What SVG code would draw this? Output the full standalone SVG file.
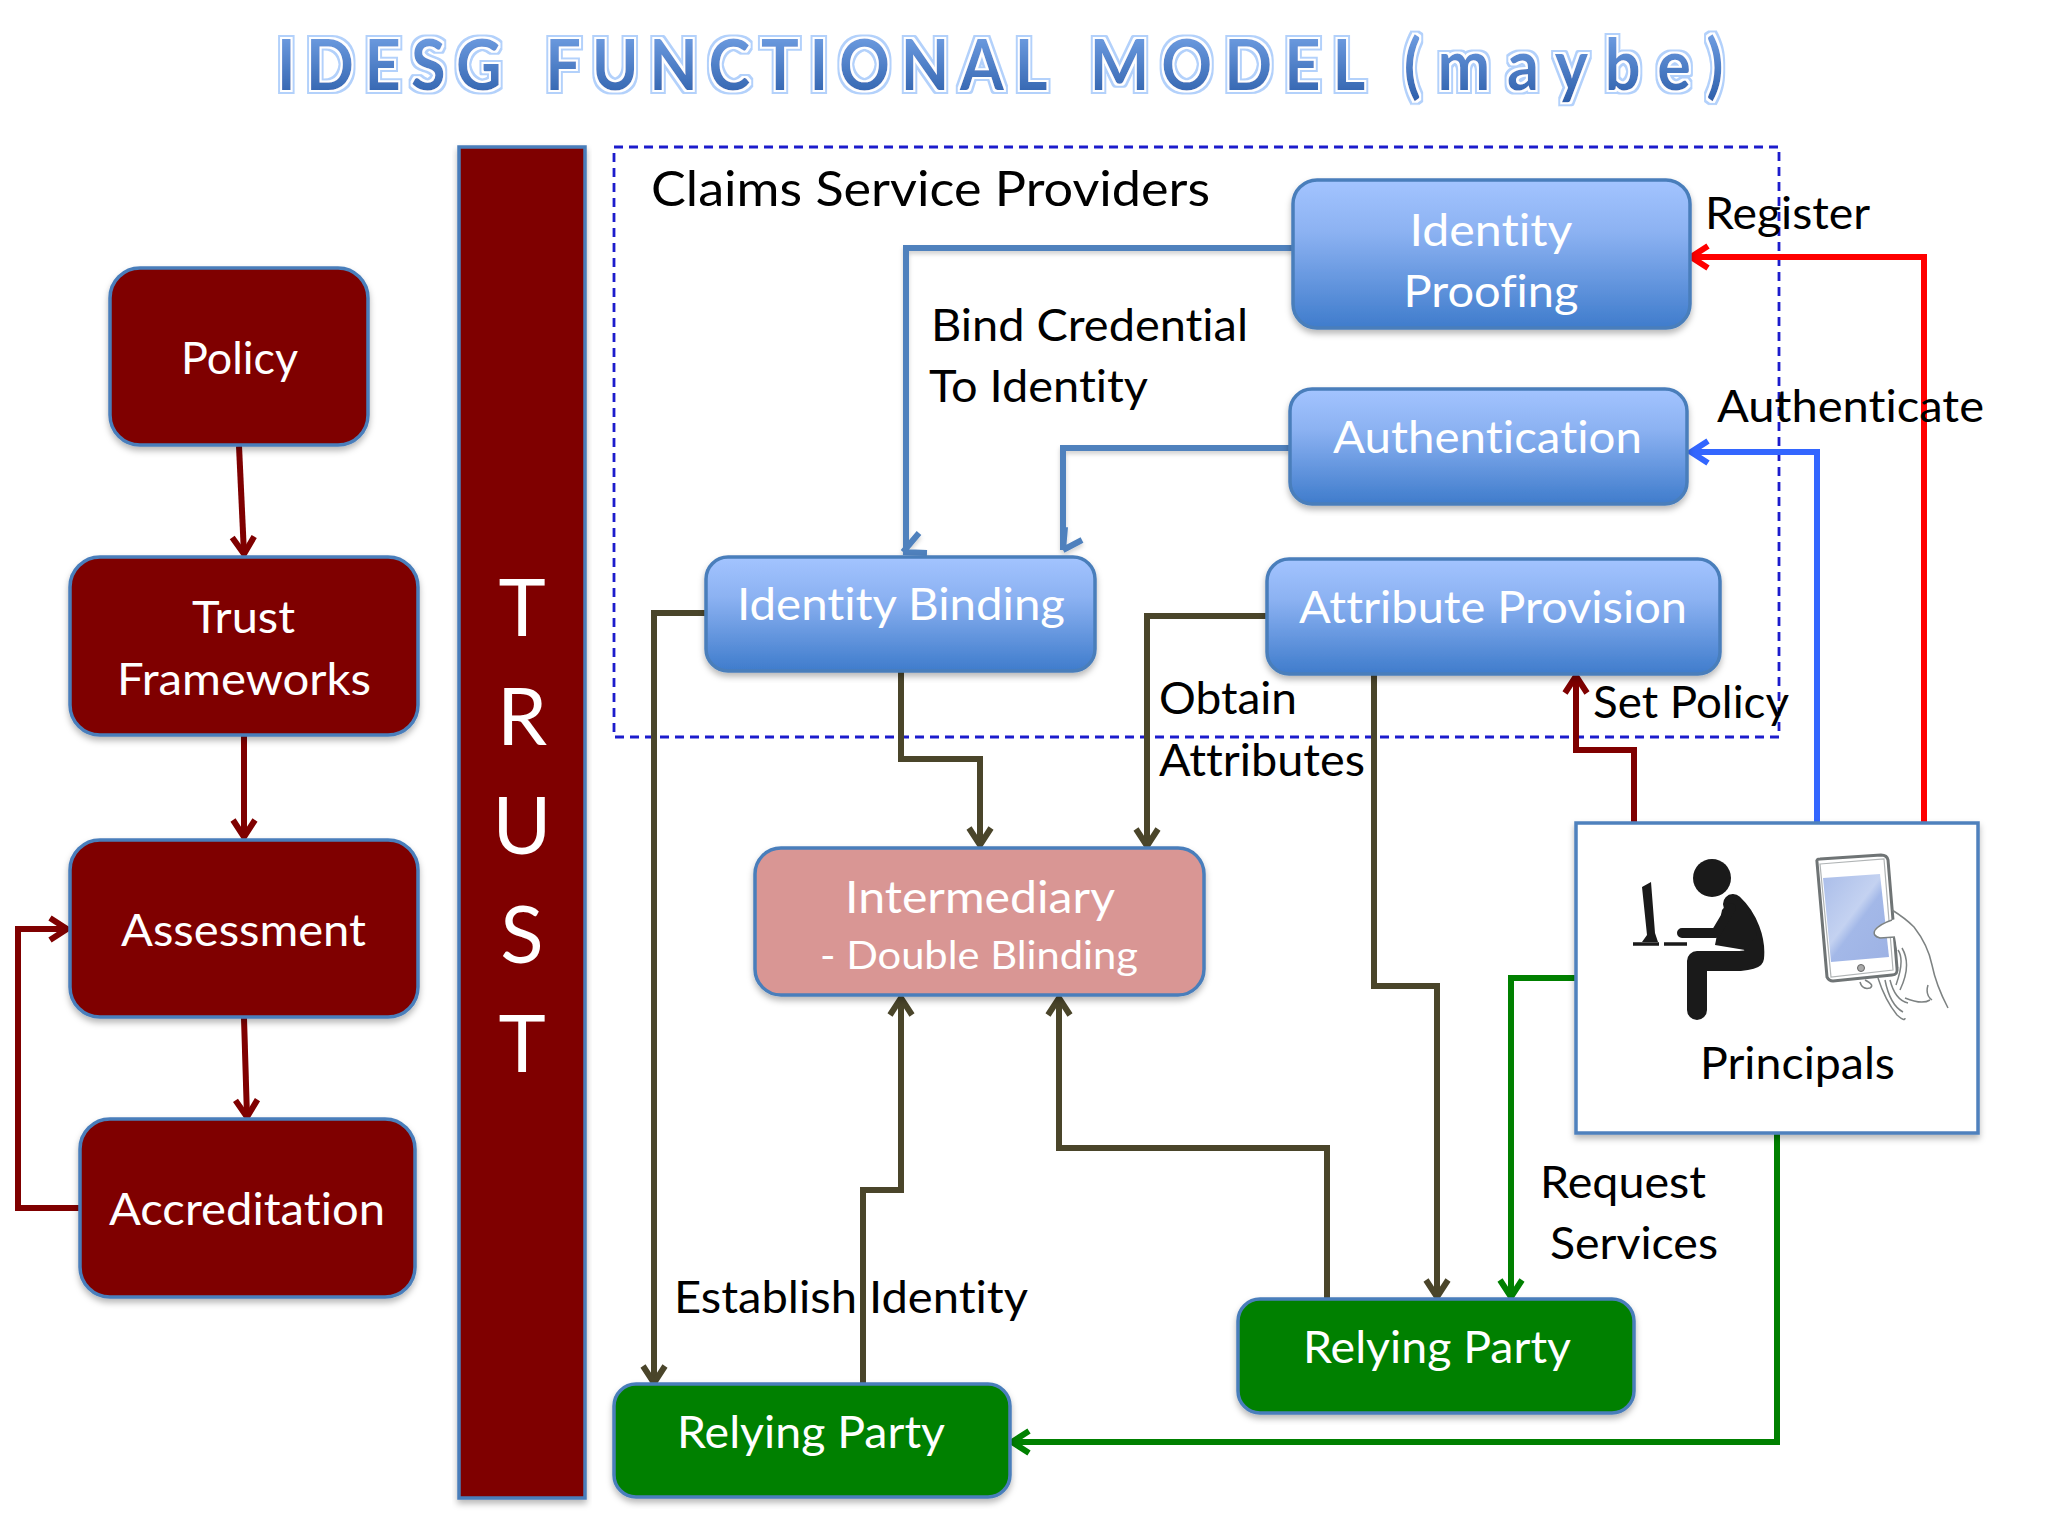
<svg xmlns="http://www.w3.org/2000/svg" width="2048" height="1536" viewBox="0 0 2048 1536">
<style>
text{font-family:Lato,"Liberation Sans",sans-serif;font-size:45px;fill:#000;font-variant-ligatures:none}
.w{fill:#fff}
.c{text-anchor:middle}
.box{stroke:#4a7ebb;stroke-width:3.5;filter:url(#sh)}
.mar{fill:#7f0000}
.blu{fill:url(#bg)}
.grn{fill:#008000}
.pnk{fill:#d99694}
.l{fill:none;stroke-width:6;stroke-linejoin:miter}
.dr{stroke:#7f0000}.sb{stroke:#4f81bd}.ol{stroke:#4a452a}.rd{stroke:#ff0000}.bb{stroke:#3366ff}.gr{stroke:#008000}
.hand{fill:none;stroke:#7d8282;stroke-width:1.5}
</style>
<defs>
<linearGradient id="bg" x1="0" y1="0" x2="0" y2="1"><stop offset="0" stop-color="#a3c4ff"/><stop offset=".35" stop-color="#8cb2f2"/><stop offset="1" stop-color="#3f7ccc"/></linearGradient>
<linearGradient id="tg" x1="0" y1="0" x2="0" y2="1"><stop offset="0" stop-color="#7ba9ec"/><stop offset="1" stop-color="#2a5ca8"/></linearGradient>
<linearGradient id="sc" x1="0" y1="0" x2="1" y2="1"><stop offset="0" stop-color="#aabde9"/><stop offset=".45" stop-color="#c4d2f1"/><stop offset=".55" stop-color="#a3b8e8"/><stop offset="1" stop-color="#9db2e4"/></linearGradient>
<filter id="sh" x="-5%" y="-5%" width="110%" height="115%"><feDropShadow dx="0" dy="4" stdDeviation="3" flood-color="#000" flood-opacity=".28"/></filter>
<filter id="ls" x="-5%" y="-5%" width="110%" height="110%"><feDropShadow dx="0" dy="3" stdDeviation="2" flood-color="#000" flood-opacity=".18"/></filter>
<filter id="tt" x="-3%" y="-30%" width="106%" height="160%">
<feMorphology in="SourceAlpha" operator="dilate" radius="4.2" result="o"/>
<feFlood flood-color="#b3d1fb"/><feComposite in2="o" operator="in" result="oc"/>
<feMorphology in="SourceAlpha" operator="dilate" radius="2.2" result="i"/>
<feFlood flood-color="#ffffff"/><feComposite in2="i" operator="in" result="ic"/>
<feMerge><feMergeNode in="oc"/><feMergeNode in="ic"/><feMergeNode in="SourceGraphic"/></feMerge>
</filter>
<marker id="mdr" markerUnits="userSpaceOnUse" markerWidth="32" markerHeight="32" refX="24" refY="16" orient="auto"><path d="M7 5L24 16L7 27" fill="none" stroke="#7f0000" stroke-width="6"/></marker>
<marker id="mol" markerUnits="userSpaceOnUse" markerWidth="32" markerHeight="32" refX="24" refY="16" orient="auto"><path d="M7 5L24 16L7 27" fill="none" stroke="#4a452a" stroke-width="6"/></marker>
<marker id="mrd" markerUnits="userSpaceOnUse" markerWidth="32" markerHeight="32" refX="24" refY="16" orient="auto"><path d="M7 5L24 16L7 27" fill="none" stroke="#ff0000" stroke-width="6"/></marker>
<marker id="mbb" markerUnits="userSpaceOnUse" markerWidth="32" markerHeight="32" refX="24" refY="16" orient="auto"><path d="M7 5L24 16L7 27" fill="none" stroke="#3366ff" stroke-width="6"/></marker>
<marker id="mgr" markerUnits="userSpaceOnUse" markerWidth="32" markerHeight="32" refX="24" refY="16" orient="auto"><path d="M7 5L24 16L7 27" fill="none" stroke="#008000" stroke-width="6"/></marker>
</defs>
<rect width="2048" height="1536" fill="#fff"/>
<text id="title" transform="translate(277 90) scale(.9 1)" style="font-size:70px;font-weight:700;fill:url(#tg)" filter="url(#tt)"><tspan x="0" y="0" style="letter-spacing:11.6px">IDESG </tspan><tspan x="298" y="0" style="letter-spacing:12px">FUNCTIONAL </tspan><tspan x="903" y="0" style="letter-spacing:13.4px">MODEL </tspan><tspan x="1252" y="0" style="letter-spacing:18.6px">(maybe)</tspan></text>

<g id="trust-bar"><rect class="box mar" x="459" y="147" width="126" height="1351"/>
<text class="w c" x="522" y="636" style="font-size:80px">T</text>
<text class="w c" x="522" y="745" style="font-size:80px">R</text>
<text class="w c" x="522" y="854" style="font-size:80px">U</text>
<text class="w c" x="522" y="963" style="font-size:80px">S</text>
<text class="w c" x="522" y="1072" style="font-size:80px">T</text></g>

<g id="claims-service-providers"><rect x="614" y="147" width="1165" height="590" fill="none" stroke="#1c1ccc" stroke-width="2.8" stroke-dasharray="9 6"/>
<text x="651" y="206" textLength="559" lengthAdjust="spacingAndGlyphs" style="font-size:48px">Claims Service Providers</text></g>

<g id="connectors">
<path class="l dr" d="M239 446L244 554" marker-end="url(#mdr)"/>
<path class="l dr" d="M244 735V837" marker-end="url(#mdr)"/>
<path class="l dr" d="M244 1018L247 1117" marker-end="url(#mdr)"/>
<path class="l dr" d="M80 1208H18V929H67" marker-end="url(#mdr)"/>
<path class="l sb" d="M1293 248H906V552M903 552L919 533M903 552L927 553" filter="url(#ls)"/>
<path class="l sb" d="M1290 448H1063V550M1063 550L1065 527M1063 550L1082 540" filter="url(#ls)"/>
<path class="l ol" d="M1267 616H1147V846" marker-end="url(#mol)"/>
<path class="l ol" d="M901 671V759H980V845" marker-end="url(#mol)"/>
<path class="l ol" d="M706 613H654V1383" marker-end="url(#mol)"/>
<path class="l ol" d="M863 1384V1190H901V998" marker-end="url(#mol)"/>
<path class="l ol" d="M1327 1299V1148H1059V998" marker-end="url(#mol)"/>
<path class="l ol" d="M1374 674V986H1437V1297" marker-end="url(#mol)"/>
<path class="l gr" d="M1576 978H1511V1297" marker-end="url(#mgr)"/>
<path class="l gr" d="M1777 1133V1442H1012" marker-end="url(#mgr)"/>
<path class="l dr" d="M1634 823V750H1576V676" marker-end="url(#mdr)"/>
<path class="l bb" d="M1817 823V452H1691" marker-end="url(#mbb)"/>
<path class="l rd" d="M1924 823V257H1691" marker-end="url(#mrd)"/>
</g>

<g id="policy"><rect class="box mar" x="110" y="268" width="258" height="177" rx="30"/><text class="w" x="181" y="374" textLength="117" lengthAdjust="spacingAndGlyphs">Policy</text></g>
<g id="trust-frameworks"><rect class="box mar" x="70" y="557" width="348" height="178" rx="30"/><text class="w" x="192" y="633" textLength="103" lengthAdjust="spacingAndGlyphs">Trust</text><text class="w" x="117" y="695" textLength="254" lengthAdjust="spacingAndGlyphs">Frameworks</text></g>
<g id="assessment"><rect class="box mar" x="70" y="840" width="348" height="177" rx="30"/><text class="w" x="121" y="946" textLength="245" lengthAdjust="spacingAndGlyphs">Assessment</text></g>
<g id="accreditation"><rect class="box mar" x="80" y="1119" width="335" height="178" rx="30"/><text class="w" x="109" y="1225" textLength="276" lengthAdjust="spacingAndGlyphs">Accreditation</text></g>

<g id="identity-proofing"><rect class="box blu" x="1293" y="180" width="397" height="148" rx="24"/><text class="w c" x="1491" y="246" textLength="163" lengthAdjust="spacingAndGlyphs">Identity</text><text class="w c" x="1491" y="307" textLength="175" lengthAdjust="spacingAndGlyphs">Proofing</text></g>
<g id="authentication"><rect class="box blu" x="1290" y="389" width="397" height="115" rx="22"/><text class="w" x="1333" y="453" textLength="309" lengthAdjust="spacingAndGlyphs">Authentication</text></g>
<g id="identity-binding"><rect class="box blu" x="706" y="557" width="389" height="114" rx="22"/><text class="w" x="737" y="620" textLength="328" lengthAdjust="spacingAndGlyphs">Identity Binding</text></g>
<g id="attribute-provision"><rect class="box blu" x="1267" y="559" width="453" height="115" rx="22"/><text class="w" x="1299" y="623" textLength="388" lengthAdjust="spacingAndGlyphs">Attribute Provision</text></g>
<g id="intermediary"><rect class="box pnk" x="755" y="848" width="449" height="147" rx="26"/><text class="w" x="845" y="913" textLength="270" lengthAdjust="spacingAndGlyphs">Intermediary</text><text class="w" x="820" y="969" textLength="318" lengthAdjust="spacingAndGlyphs" style="font-size:38px">- Double Blinding</text></g>
<g id="relying-party-right"><rect class="box grn" x="1238" y="1299" width="396" height="114" rx="22"/><text class="w" x="1303" y="1363" textLength="268" lengthAdjust="spacingAndGlyphs">Relying Party</text></g>
<g id="relying-party-left"><rect class="box grn" x="614" y="1384" width="396" height="113" rx="22"/><text class="w" x="677" y="1448" textLength="268" lengthAdjust="spacingAndGlyphs">Relying Party</text></g>

<g id="principals"><rect x="1576" y="823" width="402" height="310" fill="#fff" stroke="#4f81bd" stroke-width="3.5" filter="url(#sh)"/>
<circle cx="1712" cy="878" r="19" fill="#1a1a1a"/>
<path d="M1733 904C1748 918 1756 940 1754 958Q1752 960 1740 961H1697V1010" fill="none" stroke="#1a1a1a" stroke-width="20" stroke-linecap="round" stroke-linejoin="round"/>
<path d="M1733 897Q1750 905 1757 935L1745 950L1715 945L1722 910Z" fill="#1a1a1a"/>
<path d="M1731 908L1716 933H1682" fill="none" stroke="#1a1a1a" stroke-width="10" stroke-linecap="round" stroke-linejoin="round"/>
<path d="M1642 887L1651 882L1655 933L1658 942H1642L1647 935Z" fill="#1a1a1a"/>
<path d="M1633 944H1659M1664 944H1687" stroke="#1a1a1a" stroke-width="3.5" fill="none"/>
<path d="M1817 862Q1816 859 1820 859L1881 855Q1887 855 1888 860L1897 968Q1898 975 1892 975L1833 981Q1829 981 1827 977Z" fill="#fff" stroke="#6f7475" stroke-width="3"/>
<path d="M1820 864L1884 859L1893 970L1831 977Z" fill="none" stroke="#b0b4b5" stroke-width="1.2"/>
<path d="M1823 878L1880 874L1889 957L1831 962Z" fill="url(#sc)"/>
<circle cx="1861" cy="968" r="3.5" fill="#aaa" stroke="#666" stroke-width="1"/>
<path d="M1892 920Q1880 923 1874 930Q1873 936 1882 938L1895 937L1900 965L1896 985L1905 1000L1930 1000L1915 945L1900 918Z" fill="#fff"/>
<path class="hand" d="M1892 910Q1905 918 1914 927Q1928 945 1932 965Q1936 985 1948 1008M1892 920Q1880 924 1875 930Q1872 936 1880 938L1895 937M1898 950Q1905 960 1896 985M1902 948Q1912 965 1900 990M1878 978Q1885 1000 1897 1015Q1905 1022 1905 1018M1865 980Q1875 985 1870 988Q1862 990 1860 982M1885 980Q1890 1005 1903 1012M1890 980Q1895 1000 1908 1003M1930 1000Q1922 1005 1905 998M1928 985Q1925 995 1932 1000"/>
<text x="1700" y="1079" textLength="195" lengthAdjust="spacingAndGlyphs">Principals</text></g>

<g id="labels">
<text x="931" y="341" textLength="317" lengthAdjust="spacingAndGlyphs">Bind Credential</text>
<text x="929" y="402" textLength="219" lengthAdjust="spacingAndGlyphs">To Identity</text>
<text x="1705" y="229" textLength="165" lengthAdjust="spacingAndGlyphs">Register</text>
<text x="1717" y="422" textLength="267" lengthAdjust="spacingAndGlyphs">Authenticate</text>
<text x="1159" y="714" textLength="138" lengthAdjust="spacingAndGlyphs">Obtain</text>
<text x="1159" y="776" textLength="206" lengthAdjust="spacingAndGlyphs">Attributes</text>
<text x="1593" y="718" textLength="196" lengthAdjust="spacingAndGlyphs">Set Policy</text>
<text x="1540" y="1198" textLength="166" lengthAdjust="spacingAndGlyphs">Request</text>
<text x="1550" y="1259" textLength="168" lengthAdjust="spacingAndGlyphs">Services</text>
<text x="674" y="1313" textLength="354" lengthAdjust="spacingAndGlyphs">Establish Identity</text>
</g>
</svg>
